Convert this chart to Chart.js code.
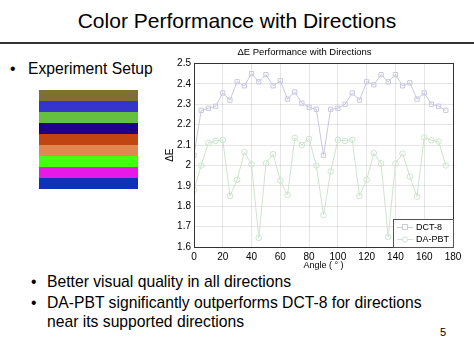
<!DOCTYPE html>
<html>
<head>
<meta charset="utf-8">
<script src="https://cdn.jsdelivr.net/npm/chart.js@4"></script>
<style>
  html, body { margin: 0; padding: 0; background: #fff; }
  body { width: 474px; height: 355px; position: relative; overflow: hidden; font-family: "Liberation Sans", Arial, sans-serif; color: #000; }
  .t { position: absolute; white-space: nowrap; line-height: 1; }
  #title { left: 0; width: 474px; text-align: center; top: 10px; font-size: 21px; }
  #rule { position: absolute; left: 0; top: 42px; width: 474px; height: 2px; background: #333; }
  .stripe { position: absolute; left: 39px; width: 99px; }
  #chartWrap { position: absolute; left: 156px; top: 44px; width: 314px; height: 232px; }
  .b { font-size: 15.7px; }
</style>
</head>
<body>
<div id="title" class="t">Color Performance with Directions</div>
<div id="rule"></div>
<div class="t b" style="left:10px; top:61px;">•</div>
<div class="t b" style="left:28px; top:61px;">Experiment Setup</div>
<div id="stripes"></div>
<div class="t b" style="left:31px; top:274px;">•</div>
<div class="t b" style="left:47px; top:274px;">Better visual quality in all directions</div>
<div class="t b" style="left:31px; top:295px;">•</div>
<div class="t b" style="left:47px; top:295px;">DA-PBT significantly outperforms DCT-8 for directions</div>
<div class="t b" style="left:47px; top:314px;">near its supported directions</div>
<div class="t" style="left:440px; top:327px; font-size:11px;">5</div>
<div id="chartWrap"><canvas id="c" width="314" height="232"></canvas></div>
<script>
const stripeColors = ['#7d7030', '#3535cc', '#66c040', '#200088', '#c04510', '#e08850', '#44ff10', '#e818e8', '#1030b8'];

const angles = [0, 5, 10, 15, 20, 25, 30, 35, 40, 45, 50, 55, 60, 65, 70, 75, 80, 85,
                90, 95, 100, 105, 110, 115, 120, 125, 130, 135, 140, 145, 150, 155, 160, 165, 170, 175];
const dct8 = [2.05, 2.27, 2.28, 2.29, 2.355, 2.32, 2.41, 2.39, 2.45, 2.41, 2.445, 2.39, 2.415, 2.325, 2.36, 2.305, 2.285, 2.275,
              2.05, 2.275, 2.28, 2.30, 2.355, 2.32, 2.41, 2.395, 2.445, 2.41, 2.445, 2.39, 2.405, 2.325, 2.355, 2.30, 2.29, 2.27];
const dapbt = [1.88, 2.0, 2.11, 2.12, 2.125, 1.85, 1.93, 2.065, 2.005, 1.645, 2.01, 2.055, 1.925, 1.855, 2.135, 2.10, 2.13, 2.0,
               1.757, 1.97, 2.125, 2.12, 2.125, 1.85, 1.93, 2.06, 2.01, 1.65, 2.01, 2.058, 1.945, 1.847, 2.137, 2.123, 2.117, 2.0];
const seriesNames = ['DCT-8', 'DA-PBT'];
const xTicks = [0, 20, 40, 60, 80, 100, 120, 140, 160, 180];
const yTicks = [1.6, 1.7, 1.8, 1.9, 2.0, 2.1, 2.2, 2.3, 2.4, 2.5];

// stripes
const sWrap = document.getElementById('stripes');
stripeColors.forEach((col, i) => {
  const d = document.createElement('div');
  d.className = 'stripe';
  d.style.top = (90 + i * 11) + 'px';
  d.style.height = '11px';
  d.style.background = col;
  sWrap.appendChild(d);
});

const colDCT = 'rgb(200,200,225)';
const colPBT = 'rgb(205,228,205)';

const boxAndLegend = {
  id: 'boxAndLegend',
  afterDatasetsDraw(chart) {
    const {ctx, chartArea: a} = chart;
    ctx.save();
    ctx.strokeStyle = '#333';
    ctx.lineWidth = 1;
    ctx.strokeRect(Math.round(a.left) + 0.5, Math.round(a.top) + 0.5, Math.round(a.right - a.left), Math.round(a.bottom - a.top));
    // legend
    const w = 60, h = 28;
    const lx = Math.round(a.right) - w, ly = Math.round(a.bottom) - h;
    ctx.fillStyle = '#fff';
    ctx.fillRect(lx, ly, w, h);
    ctx.strokeStyle = '#555';
    ctx.strokeRect(lx + 0.5, ly + 0.5, w, h);
    chart.data.datasets.forEach((ds, i) => {
      const y = ly + 8 + i * 12;
      ctx.strokeStyle = ds.borderColor;
      ctx.lineWidth = 1;
      ctx.beginPath(); ctx.moveTo(lx + 4, y + 0.5); ctx.lineTo(lx + 20, y + 0.5); ctx.stroke();
      ctx.beginPath();
      if (i === 0) ctx.rect(lx + 9.5, y - 2.5, 5, 5);
      else ctx.arc(lx + 12, y + 0.5, 2.6, 0, Math.PI * 2);
      ctx.fillStyle = '#fff'; ctx.fill(); ctx.stroke();
      ctx.fillStyle = '#000';
      ctx.font = '9px "Liberation Sans", Arial, sans-serif';
      ctx.textBaseline = 'middle';
      ctx.fillText(ds.label, lx + 23, y + 1);
    });
    ctx.restore();
  }
};

const fontFam = '"Liberation Sans", Arial, sans-serif';
new Chart(document.getElementById('c'), {
  type: 'line',
  data: {
    datasets: [
      { label: seriesNames[0], data: angles.map((a, i) => ({x: a, y: dct8[i]})),
        borderColor: colDCT, backgroundColor: 'rgba(255,255,255,0)', borderWidth: 1,
        pointStyle: 'rect', pointRadius: 3, pointBorderWidth: 1, pointBorderColor: colDCT, pointBackgroundColor: 'rgba(255,255,255,0)', tension: 0 },
      { label: seriesNames[1], data: angles.map((a, i) => ({x: a, y: dapbt[i]})),
        borderColor: colPBT, backgroundColor: 'rgba(255,255,255,0)', borderWidth: 1,
        pointStyle: 'circle', pointRadius: 2.8, pointBorderWidth: 1, pointBorderColor: colPBT, pointBackgroundColor: 'rgba(255,255,255,0)', tension: 0 }
    ]
  },
  options: {
    responsive: false,
    animation: false,
    devicePixelRatio: 1,
    layout: { padding: { left: 0, right: 17, top: 0, bottom: 0 } },
    plugins: {
      legend: { display: false },
      tooltip: { enabled: false },
      title: { display: true, text: 'ΔE Performance with Directions', color: '#000',
               font: { family: fontFam, size: 9.5, weight: 'normal' }, padding: { top: 3, bottom: 5 } }
    },
    scales: {
      x: {
        type: 'linear', min: 0, max: 180,
        afterBuildTicks: s => { s.ticks = xTicks.map(v => ({value: v})); },
        afterFit: s => { s.height = 29; },
        ticks: { color: '#000', font: { family: fontFam, size: 10 }, padding: 4, maxRotation: 0, autoSkip: false },
        grid: { color: 'rgba(0,0,0,0.1)', drawTicks: false },
        border: { display: false },
        title: { display: true, text: 'Angle ( ° )', color: '#000', font: { family: fontFam, size: 9 }, padding: { top: 0, bottom: 5 } }
      },
      y: {
        type: 'linear', min: 1.6, max: 2.5,
        afterBuildTicks: s => { s.ticks = yTicks.map(v => ({value: v})); },
        afterFit: s => { s.width = 38; },
        ticks: { color: '#000', font: { family: fontFam, size: 10 }, padding: 3, autoSkip: false,
                 callback: v => String(Number(v.toFixed(1))) },
        grid: { color: 'rgba(0,0,0,0.1)', drawTicks: false },
        border: { display: false },
        title: { display: true, text: 'ΔE', color: '#000', font: { family: fontFam, size: 10 }, padding: { top: 8, bottom: 0 } }
      }
    }
  },
  plugins: [boxAndLegend]
});
</script>
</body>
</html>
